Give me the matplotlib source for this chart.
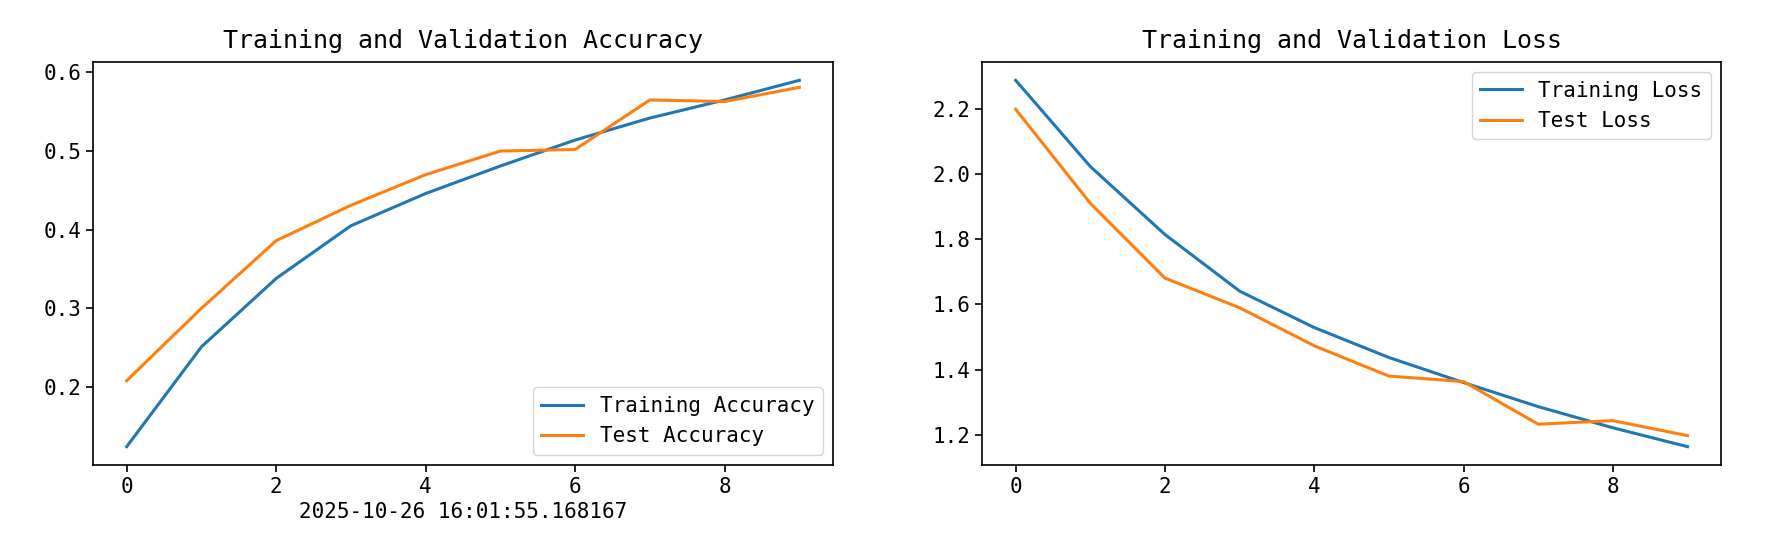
import numpy as np
import matplotlib
matplotlib.use("Agg")
import matplotlib.pyplot as plt

plt.rcParams['font.family'] = ['DejaVu Sans Mono']
plt.rcParams['font.size'] = 15

epochs = list(range(10))
train_acc = [0.124, 0.251, 0.338, 0.405, 0.446, 0.481, 0.514, 0.542, 0.565, 0.590]
test_acc = [0.208, 0.300, 0.386, 0.431, 0.470, 0.500, 0.502, 0.565, 0.563, 0.581]
train_loss = [2.289, 2.024, 1.815, 1.641, 1.529, 1.437, 1.360, 1.286, 1.221, 1.163]
test_loss = [2.200, 1.911, 1.681, 1.590, 1.473, 1.380, 1.363, 1.232, 1.243, 1.197]
stamp = "2025-10-26 16:01:55.168167"

fig = plt.figure(figsize=(17.83, 5.48), dpi=100)
ax1 = fig.add_axes([0.0522, 0.1515, 0.4150, 0.7354])
ax2 = fig.add_axes([0.5508, 0.1515, 0.4145, 0.7354])

ax1.plot(epochs, train_acc, label='Training Accuracy', lw=2.2)
ax1.plot(epochs, test_acc, label='Test Accuracy', lw=2.2)
ax1.legend(loc='lower right', fontsize=15)
ax1.set_title('Training and Validation Accuracy', fontsize=18, pad=10)
ax1.set_xlabel(stamp, fontsize=15, labelpad=4)

ax2.plot(epochs, train_loss, label='Training Loss', lw=2.2)
ax2.plot(epochs, test_loss, label='Test Loss', lw=2.2)
ax2.legend(loc='upper right', fontsize=15)
ax2.set_title('Training and Validation Loss', fontsize=18, pad=10)

for ax in (ax1, ax2):
    ax.tick_params(labelsize=15, length=5, width=1.2)
    for s in ax.spines.values():
        s.set_linewidth(1.2)

plt.savefig("out.png", dpi=100)
